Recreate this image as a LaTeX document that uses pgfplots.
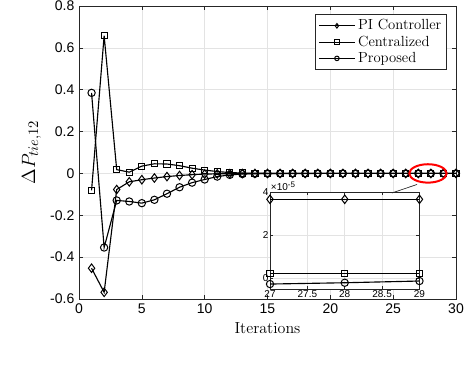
\documentclass[border=0pt]{standalone}
\usepackage{fontspec}
\usepackage{pgfplots}
\pgfplotsset{compat=1.18}
\usepackage{pgfplotstable}
\newfontfamily\helv{Liberation Sans}

\pgfplotstableread{
x y
1 -0.453
2 -0.568
3 -0.077
4 -0.040
5 -0.030
6 -0.022
7 -0.015
8 -0.010
9 -0.006
10 -0.003
11 -0.002
12 -0.001
13 -0.0005
14 -0.0002
15 -0.0001
16 -0.00005
17 0.00001
18 0.00002
19 0.00003
20 0.00003
21 0.00003
22 0.000033
23 0.000035
24 0.000036
25 0.0000365
26 0.0000366
27 0.0000366
28 0.0000366
29 0.0000366
30 0.0000366
}\dataPI

\pgfplotstableread{
x y
1 -0.081
2 0.658
3 0.018
4 0.006
5 0.035
6 0.046
7 0.045
8 0.037
9 0.025
10 0.016
11 0.009
12 0.004
13 0.002
14 0.001
15 0.0005
16 0.0002
17 0.0001
18 0.00005
19 0.00002
20 0.00001
21 0.000005
22 0.000003
23 0.0000025
24 0.0000022
25 0.0000021
26 0.0000021
27 0.0000021
28 0.0000021
29 0.0000021
30 0.000002
}\dataCen

\pgfplotstableread{
x y
1 0.385
2 -0.354
3 -0.129
4 -0.134
5 -0.142
6 -0.126
7 -0.097
8 -0.066
9 -0.044
10 -0.029
11 -0.015
12 -0.007
13 -0.003
14 -0.0015
15 -0.0007
16 -0.0003
17 -0.0001
18 -0.00005
19 -0.00003
20 -0.00001
21 -0.000005
22 -0.000004
23 -0.0000035
24 -0.000003
25 -0.000003
26 -0.0000028
27 -0.0000027
28 -0.0000021
29 -0.0000013
30 -0.000001
}\dataProp

\begin{document}
\begin{tikzpicture}
\useasboundingbox (0,0) rectangle (355.5pt,276pt);
\pgfplotsset{
  mystyle/.style={black, line width=0.85pt, mark options={solid, line width=0.75pt}},
}
\begin{axis}[
  at={(59.25pt,51.75pt)}, anchor=south west,
  scale only axis, width=282.75pt, height=219.75pt,
  xmin=0, xmax=30, ymin=-0.6, ymax=0.8,
  xtick={0,5,10,15,20,25,30},
  ytick={-0.6,-0.4,-0.2,0,0.2,0.4,0.6,0.8},
  yticklabels={-0.6,-0.4,-0.2,0,0.2,0.4,0.6,0.8},
  grid=major, major grid style={gray!22, line width=0.4pt},
  tick align=inside, major tick length=3pt,
  axis line style={black!85, line width=0.5pt},
  tick style={black!85, line width=0.5pt},
  /pgf/number format/assume math mode=true,
  tick label style={font=\helv\fontsize{10.5}{12}\selectfont},
  xlabel={Iterations},
  xlabel style={font=\fontsize{12}{14}\selectfont},
  ylabel={$\Delta P_{tie,12}$},
  ylabel style={font=\fontsize{15}{18}\selectfont},
  clip mode=individual,
  legend cell align=left,
  legend style={at={(1,1)}, anchor=north east, xshift=-6.75pt, yshift=-6pt,
    font=\fontsize{11}{13}\selectfont, draw=black!85, line width=0.5pt,
    inner sep=2pt, row sep=-1pt},
  legend image code/.code={\draw[mark repeat=2, mark phase=2, #1, mark size=1.7pt] plot coordinates {(0pt,0pt) (13.5pt,0pt) (27pt,0pt)};},
]
\addplot[mystyle, mark=diamond, mark size=3.2pt] table {\dataPI};
\addlegendentry{PI Controller}
\addplot[mystyle, mark=square, mark size=2.3pt] table {\dataCen};
\addlegendentry{Centralized}
\addplot[mystyle, mark=o, mark size=2.75pt] table {\dataProp};
\addlegendentry{Proposed}
\draw[red, line width=1.5pt] (axis cs:27.77,0) ellipse [x radius=14pt, y radius=6.9pt];
\coordinate (c1) at (axis cs:24.9,-0.0934);
\coordinate (c2) at (axis cs:26.9,-0.0527);
\end{axis}

\begin{axis}[
  at={(202.5pt,59.25pt)}, anchor=south west,
  scale only axis, width=112.1pt, height=72.75pt,
  xmin=27, xmax=29, ymin=-0.5e-5, ymax=4e-5,
  axis background/.style={fill=white},
  xtick={27,27.5,28,28.5,29}, xticklabels={27,27.5,28,28.5,29},
  ytick={0,2e-5,4e-5}, yticklabels={0,2,4},
  scaled y ticks=false,
  grid=major, major grid style={gray!22, line width=0.4pt},
  tick align=inside, major tick length=2.5pt,
  axis line style={black!85, line width=0.5pt},
  tick style={black!85, line width=0.5pt},
  tick label style={font=\helv\fontsize{7.5}{9}\selectfont},
  xticklabel style={inner sep=1pt},
  yticklabel style={inner sep=1pt},
  clip mode=individual,
  restrict x to domain=27:29,
]
\addplot[mystyle, mark=diamond, mark size=3.2pt] table {\dataPI};
\addplot[mystyle, mark=square, mark size=2.3pt] table {\dataCen};
\addplot[mystyle, mark=o, mark size=2.75pt] table {\dataProp};
\node[anchor=south west, font=\helv\fontsize{7.5}{9}\selectfont, inner sep=0.5pt] at (rel axis cs:0,1) {×10\raisebox{0.7ex}{\fontsize{6}{7}\selectfont -5}};
\end{axis}
\draw[black!85, line width=0.5pt] (c1) -- (c2);
\end{tikzpicture}
\end{document}
